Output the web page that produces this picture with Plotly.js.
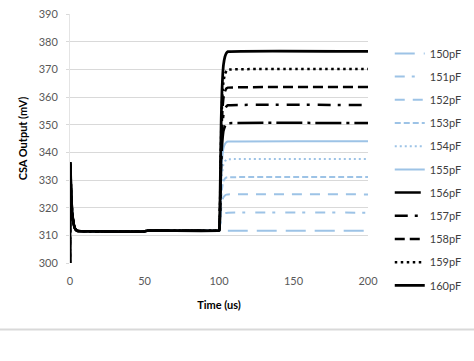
<!DOCTYPE html>
<html>
<head>
<meta charset="utf-8">
<script src="https://cdn.plot.ly/plotly-3.0.1.min.js"></script>
<style>html,body{margin:0;padding:0;background:#fff;}#chart{width:474px;height:361px;}</style>
</head>
<body>
<div id="chart"></div>
<script>
// Time axis (us)
var tPre = [0, 0.2, 0.8, 1.5, 2.5, 3.5, 5, 20, 50, 52, 100];
var tPost = [100.3, 101, 101.5, 102, 102.5, 103, 104, 105, 106, 200];
// Shared response before the step (mV)
var vPre = [300, 336, 325, 318, 314, 312.3, 311.6, 311.4, 311.4, 311.7, 311.7];
// Responses after the step (mV), one per capacitance
var v150 = [311.7, 311.7, 311.7, 311.7, 311.7, 311.7, 311.7, 311.7, 311.7, 311.7];
var v151 = [311.7, 314.0, 315.7, 316.7, 317.3, 317.7, 318.0, 318.1, 318.2, 318.2];
var v152 = [311.7, 316.4, 319.9, 321.9, 323.1, 323.8, 324.4, 324.7, 324.8, 324.8];
var v153 = [311.7, 318.6, 323.8, 326.8, 328.6, 329.6, 330.5, 330.9, 331.0, 331.1];
var v154 = [311.8, 321.0, 327.9, 331.9, 334.2, 335.7, 336.8, 337.3, 337.5, 337.6];
var v155 = [311.8, 323.3, 331.9, 336.9, 339.8, 341.6, 343.0, 343.7, 343.9, 344.0];
var v156 = [311.8, 325.6, 336.0, 342.0, 345.5, 347.7, 349.4, 350.2, 350.5, 350.6];
var v157 = [311.9, 328.0, 340.0, 347.1, 351.2, 353.7, 355.7, 356.6, 357.0, 357.1];
var v158 = [311.9, 330.3, 344.1, 352.2, 356.8, 359.7, 362.0, 363.1, 363.4, 363.6];
var v159 = [312.0, 332.7, 348.2, 357.2, 362.5, 365.7, 368.3, 369.5, 369.9, 370.1];
var v160 = [312.0, 335.0, 352.2, 362.2, 368.1, 371.6, 374.6, 375.9, 376.4, 376.5];
var names = ['150pF','151pF','152pF','153pF','154pF','155pF','156pF','157pF','158pF','159pF','160pF'];
var posts = [v150, v151, v152, v153, v154, v155, v156, v157, v158, v159, v160];

var blue = '#9DC3E6', black = '#000000';
var styles = [
  {c: blue, w: 2, d: '20px,9px'},
  {c: blue, w: 2, d: '10px,7px,3px,10px'},
  {c: blue, w: 2, d: '10px,8px'},
  {c: blue, w: 2, d: '6px,3px'},
  {c: blue, w: 2, d: '2px,3px'},
  {c: blue, w: 2, d: 'solid'},
  {c: black, w: 2.5, d: '26px,5px,3px,5px'},
  {c: black, w: 2.5, d: '13px,7px,3px,8px'},
  {c: black, w: 2.5, d: '10px,5px'},
  {c: black, w: 2.5, d: '2.5px,3.5px'},
  {c: black, w: 2.75, d: 'solid'}
];
var t = tPre.concat(tPost);
var traces = names.map(function(n, i){
  return {
    x: t, y: vPre.concat(posts[i]), name: n, type: 'scatter', mode: 'lines',
    legendgroup: n,
    line: {color: styles[i].c, width: styles[i].w, dash: styles[i].d, shape: 'spline', smoothing: 0.3}
  };
});
var fam = 'Lato, "Open Sans", sans-serif';
var tickFont = {family: fam, size: 11, color: '#595959'};
var layout = {
  width: 474, height: 361,
  margin: {l: 69.5, r: 105.7, t: 14, b: 97.7, autoexpand: false},
  paper_bgcolor: '#fff', plot_bgcolor: '#fff',
  showlegend: true,
  legend: {x: 1.073, y: 0.90, xanchor: 'left', yanchor: 'top', tracegroupgap: 4.2, maxheight: 320,
    font: {family: fam, size: 11, color: '#404040'}, bgcolor: 'rgba(0,0,0,0)'},
  xaxis: {range: [0, 200], tickvals: [0, 50, 100, 150, 200], showgrid: false, zeroline: false,
    showline: false, ticks: '', tickfont: tickFont, ticklabelstandoff: 10, automargin: false,
    title: {text: 'Time (us)', font: {family: fam, size: 11, color: '#000', weight: 'bold'}, standoff: 15}},
  yaxis: {range: [300, 390], tickvals: [300,310,320,330,340,350,360,370,380,390], showgrid: true,
    gridcolor: '#D9D9D9', gridwidth: 1, zeroline: false, showline: true, linecolor: '#E4E4E4', linewidth: 1,
    ticks: 'outside', ticklen: 3, tickcolor: '#D9D9D9', tickfont: tickFont, ticklabelstandoff: 6, automargin: false,
    title: {text: 'CSA Output (mV)', font: {family: fam, size: 11, color: '#000', weight: 'bold'}, standoff: 8}},
  shapes: [
    {type: 'line', xref: 'paper', yref: 'paper', x0: -0.24, x1: 1.36, y0: -0.2675, y1: -0.2675,
      line: {color: '#D9D9D9', width: 2}}
  ]
};
Plotly.newPlot('chart', traces, layout, {displayModeBar: false, staticPlot: true});
</script>
</body>
</html>
